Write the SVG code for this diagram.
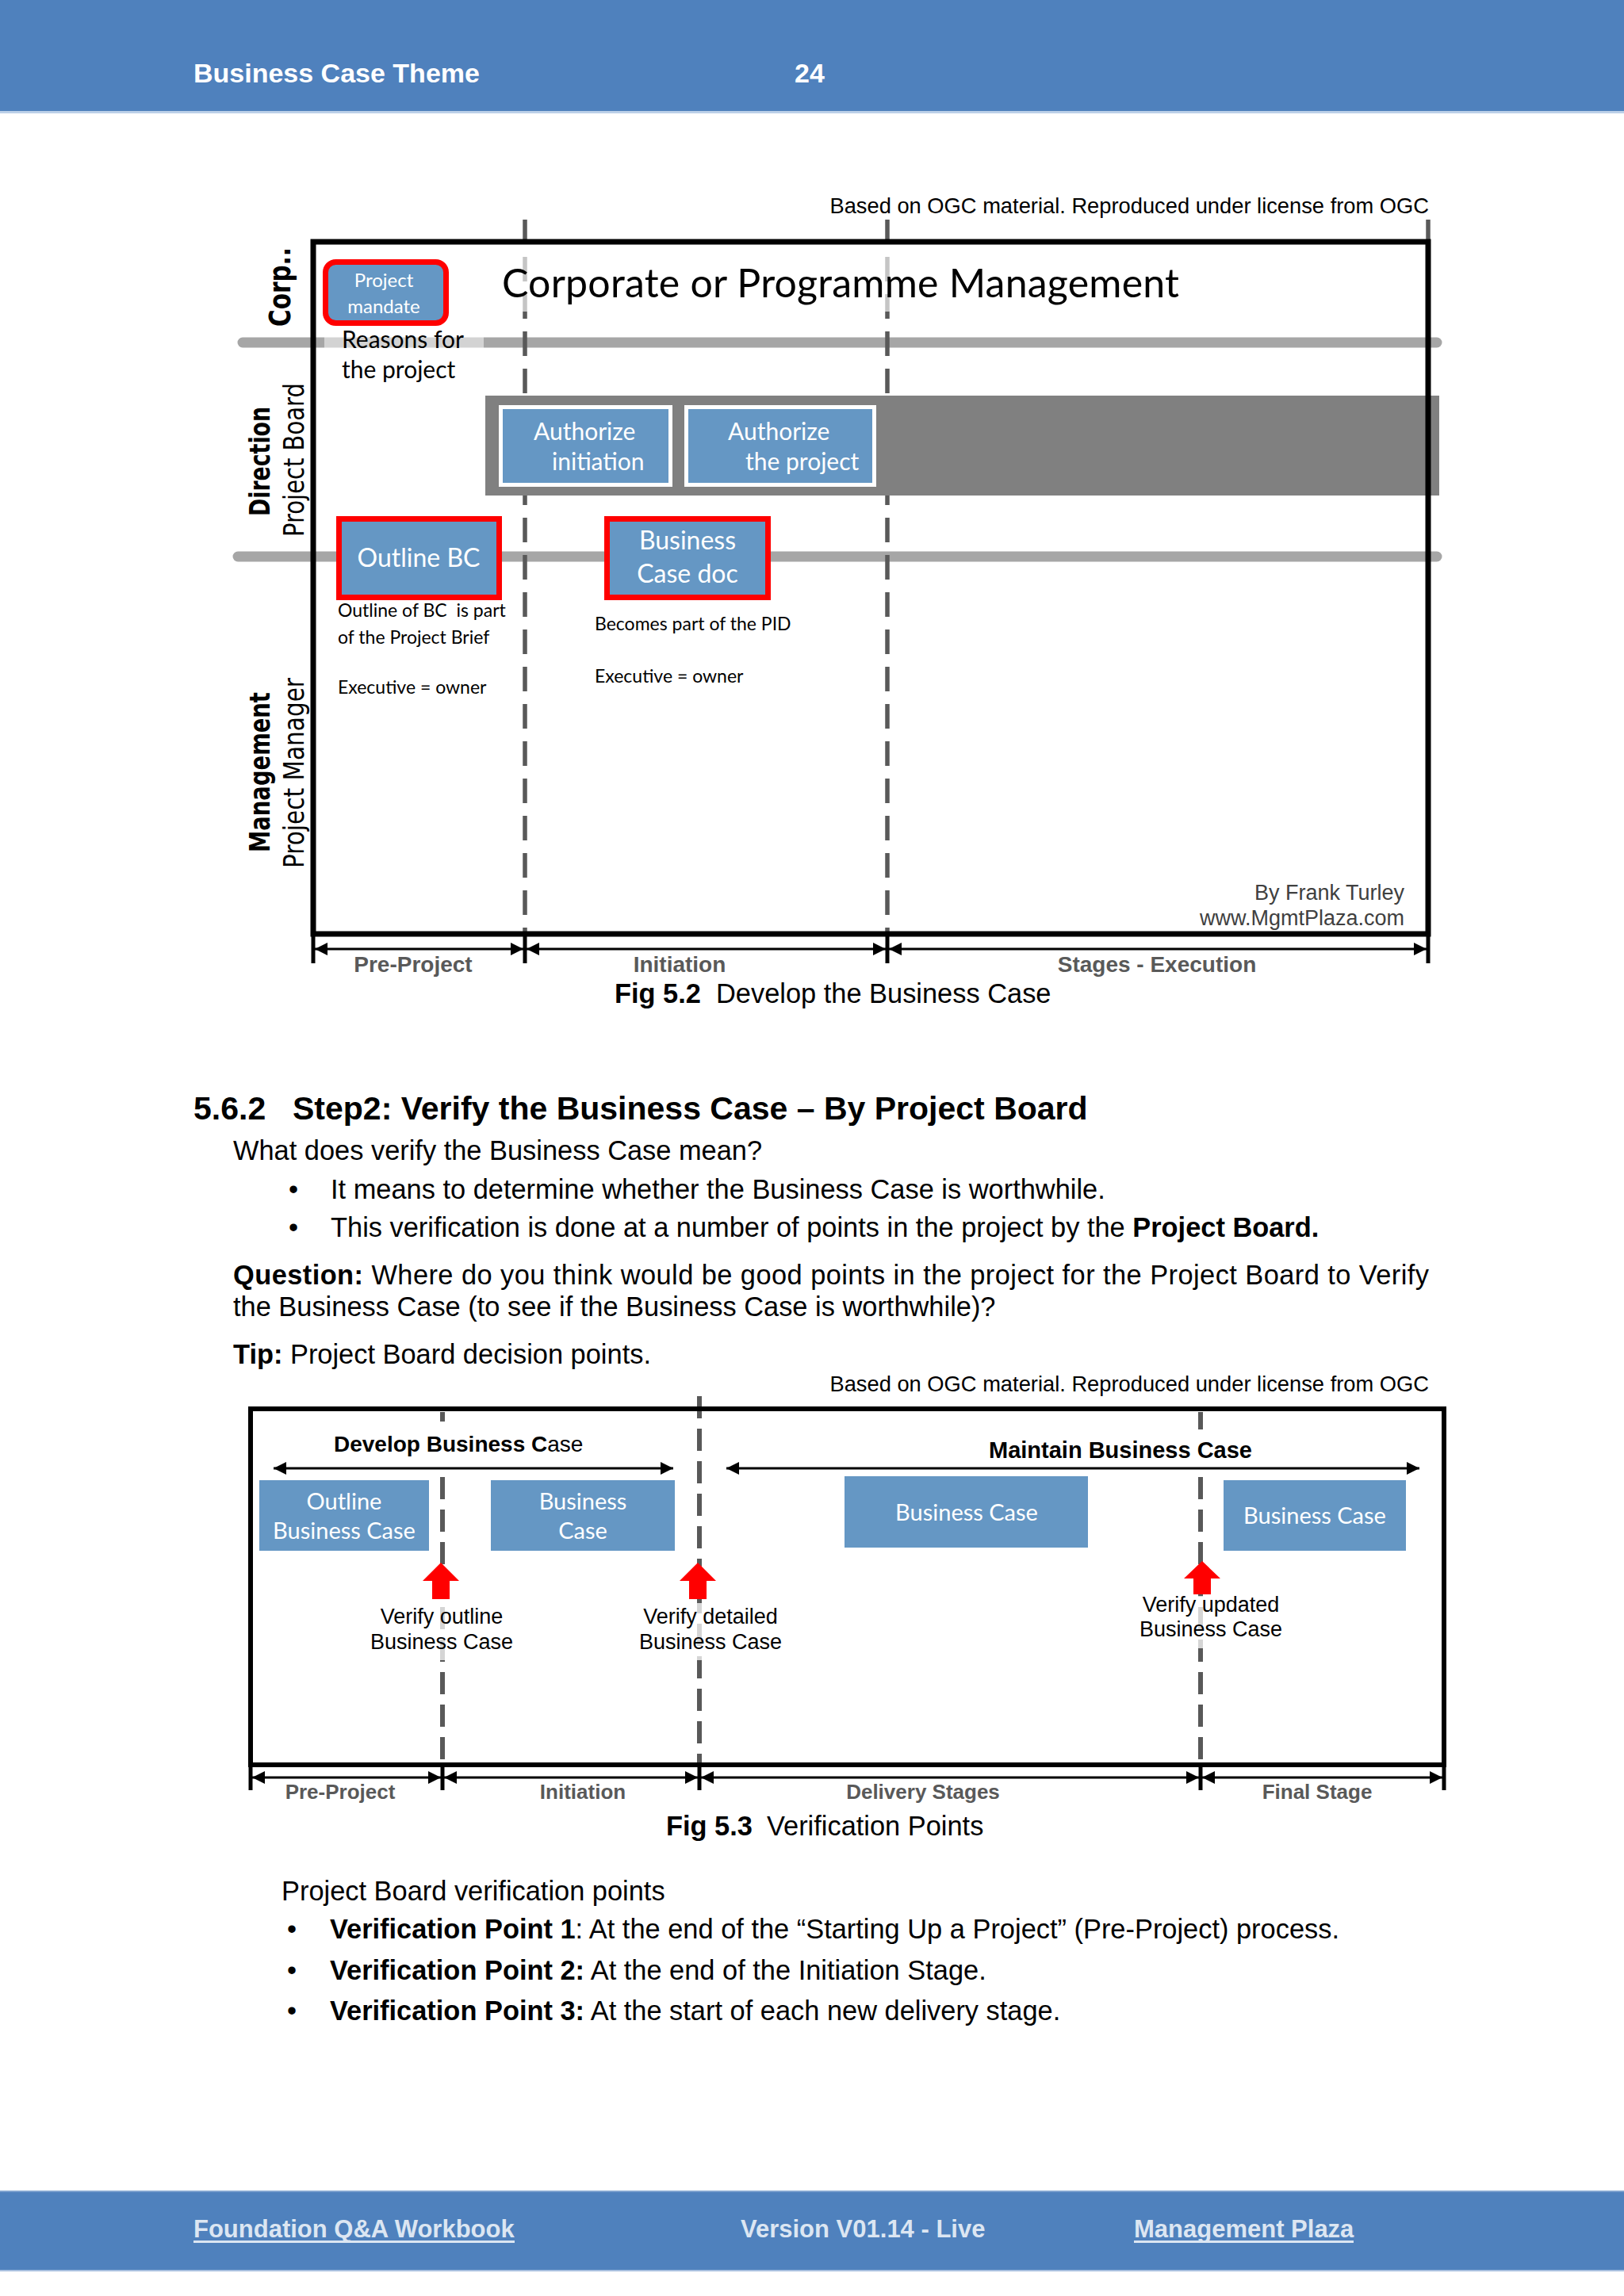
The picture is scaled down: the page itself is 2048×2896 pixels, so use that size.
<svg xmlns="http://www.w3.org/2000/svg" width="2048" height="2896" viewBox="0 0 2048 2896">
<style>
.hdr{font-family:"Liberation Sans",Arial,sans-serif;font-weight:bold;font-size:34px;fill:#fff}
.ftr{font-family:"Liberation Sans",Arial,sans-serif;font-weight:bold;font-size:31px;fill:#DCE6F2}
.body{font-family:"Liberation Sans",Arial,sans-serif;font-size:34.4px;fill:#000}
.head{font-family:"Liberation Sans",Arial,sans-serif;font-size:41px;font-weight:bold;fill:#000}
.b{font-weight:bold}
.note{font-family:"Liberation Sans",Arial,sans-serif;font-size:27px;fill:#000}
.ogc{font-family:"Liberation Sans",Arial,sans-serif;font-size:27.3px;fill:#000}
.cal{font-family:Lato,"Noto Sans",sans-serif;fill:#000}
.calw{font-family:Lato,"Noto Sans",sans-serif;fill:#fff}
.rot{font-family:"DejaVu Sans",Verdana,sans-serif;fill:#000}
.dim{font-family:"Liberation Sans",Arial,sans-serif;font-weight:bold;fill:#595959}
.blue{fill:#6597C4}
.dash1{stroke:#595959;stroke-width:5.5;stroke-dasharray:31 16;fill:none}
.dash2{stroke:#595959;stroke-width:6;stroke-dasharray:28 13;fill:none}
.dl{stroke:#000;stroke-width:3;fill:none;marker-start:url(#ah);marker-end:url(#ah)}
.tick{stroke:#000;stroke-width:5;fill:none}
.redarrow{fill:#FF0000}
</style>
<defs>
<marker id="ah" viewBox="0 0 10 10" refX="10" refY="5" markerWidth="16" markerHeight="17" markerUnits="userSpaceOnUse" orient="auto-start-reverse">
<path d="M0,0 L10,5 L0,10 z" fill="#000"/>
</marker>
</defs>
<rect width="2048" height="2896" fill="#fff"/>

<!-- Header -->
<g id="header">
<rect x="0" y="0" width="2048" height="140" fill="#4F81BD"/>
<rect x="0" y="140" width="2048" height="3" fill="#BCD0E8"/>
<text class="hdr" x="244" y="104">Business Case Theme</text>
<text class="hdr" x="1002" y="104">24</text>
</g>

<!-- Figure 5.2 -->
<g id="fig52">
<text class="ogc" x="1802" y="269" text-anchor="end">Based on OGC material. Reproduced under license from OGC</text>

<g id="lane-bars">
<line x1="306" y1="432" x2="1812" y2="432" stroke="#A6A6A6" stroke-width="13" stroke-linecap="round"/>
<line x1="300" y1="702" x2="1812" y2="702" stroke="#A6A6A6" stroke-width="13" stroke-linecap="round"/>
</g>

<g id="fig52-dashes">
<line class="dash1" x1="662" y1="277" x2="662" y2="1178"/>
<line class="dash1" x1="1119" y1="277" x2="1119" y2="1178"/>
<line x1="1801" y1="277" x2="1801" y2="305" stroke="#595959" stroke-width="5.5"/>
</g>

<rect x="630" y="323" width="862" height="70" fill="#fff" opacity="0.65"/>
<rect x="409" y="420" width="201" height="68" fill="#fff" opacity="0.5"/>

<g id="band">
<rect x="612" y="499" width="1203" height="126" fill="#808080"/>
</g>

<rect x="395" y="305" width="1406" height="873" fill="none" stroke="#000" stroke-width="7"/>

<g id="title">
<text class="cal" x="633" y="375" font-size="50" textLength="854" lengthAdjust="spacing">Corporate or Programme Management</text>
</g>

<g id="node-mandate">
<rect x="410.5" y="330.5" width="152" height="77" rx="13" class="blue" stroke="#FF0000" stroke-width="7"/>
<text class="calw" x="484" y="362" font-size="24" text-anchor="middle">Project</text>
<text class="calw" x="484" y="395" font-size="24" text-anchor="middle">mandate</text>
</g>
<g id="reasons">
<text class="cal" x="431" y="439" font-size="30">Reasons for</text>
<text class="cal" x="431" y="477" font-size="30">the project</text>
</g>

<g id="node-auth-init">
<rect x="631.5" y="513.5" width="214" height="98" class="blue" stroke="#fff" stroke-width="5"/>
<text class="calw" x="673" y="555" font-size="30">Authorize</text>
<text class="calw" x="696" y="593" font-size="30">initiation</text>
</g>
<g id="node-auth-proj">
<rect x="865.5" y="513.5" width="237" height="98" class="blue" stroke="#fff" stroke-width="5"/>
<text class="calw" x="918" y="555" font-size="30">Authorize</text>
<text class="calw" x="940" y="593" font-size="30">the project</text>
</g>

<g id="node-outline-bc">
<rect x="427.5" y="654.5" width="202" height="99" class="blue" stroke="#FF0000" stroke-width="7"/>
<text class="calw" x="528" y="715" font-size="32" text-anchor="middle">Outline BC</text>
</g>
<g id="node-bc-doc">
<rect x="765.5" y="654.5" width="203" height="99" class="blue" stroke="#FF0000" stroke-width="7"/>
<text class="calw" x="867" y="693" font-size="32" text-anchor="middle">Business</text>
<text class="calw" x="867" y="735" font-size="32" text-anchor="middle">Case doc</text>
</g>

<g id="notes52">
<text class="cal" x="426" y="778" font-size="23" style="white-space:pre">Outline of BC  is part</text>
<text class="cal" x="426" y="812" font-size="23">of the Project Brief</text>
<text class="cal" x="426" y="875" font-size="23">Executive = owner</text>
<text class="cal" x="750" y="795" font-size="23">Becomes part of the PID</text>
<text class="cal" x="750" y="861" font-size="23">Executive = owner</text>
<text x="1771" y="1135" font-family="Liberation Sans,Arial,sans-serif" font-size="27" fill="#404040" text-anchor="end">By Frank Turley</text>
<text x="1771" y="1167" font-family="Liberation Sans,Arial,sans-serif" font-size="27" fill="#404040" text-anchor="end">www.MgmtPlaza.com</text>
</g>

<g id="lane-labels">
<text class="rot" font-weight="bold" font-size="38" text-anchor="middle" textLength="100" lengthAdjust="spacingAndGlyphs" transform="translate(366,362) rotate(-90)">Corp..</text>
<text class="rot" font-weight="bold" font-size="35" text-anchor="middle" textLength="138" lengthAdjust="spacingAndGlyphs" transform="translate(340,582) rotate(-90)">Direction</text>
<text class="rot" font-size="35" text-anchor="middle" textLength="194" lengthAdjust="spacingAndGlyphs" transform="translate(383,580) rotate(-90)">Project Board</text>
<text class="rot" font-weight="bold" font-size="35" text-anchor="middle" textLength="202" lengthAdjust="spacingAndGlyphs" transform="translate(340,974) rotate(-90)">Management</text>
<text class="rot" font-size="35" text-anchor="middle" textLength="240" lengthAdjust="spacingAndGlyphs" transform="translate(383,975) rotate(-90)">Project Manager</text>
</g>

<g id="fig52-timeline">
<line class="tick" x1="395" y1="1178" x2="395" y2="1215"/>
<line class="tick" x1="662" y1="1175" x2="662" y2="1215"/>
<line class="tick" x1="1119" y1="1175" x2="1119" y2="1215"/>
<line class="tick" x1="1801" y1="1178" x2="1801" y2="1215"/>
<line class="dl" x1="397" y1="1197" x2="660" y2="1197"/>
<line class="dl" x1="664" y1="1197" x2="1117" y2="1197"/>
<line class="dl" x1="1121" y1="1197" x2="1799" y2="1197"/>
<text class="dim" font-size="28" x="521" y="1226" text-anchor="middle">Pre-Project</text>
<text class="dim" font-size="28" x="857" y="1226" text-anchor="middle">Initiation</text>
<text class="dim" font-size="28" x="1459" y="1226" text-anchor="middle">Stages - Execution</text>
</g>
<text class="body" y="1265"><tspan class="b" x="775">Fig 5.2</tspan><tspan x="903">Develop the Business Case</tspan></text>
</g>

<!-- Body text -->
<g id="text-section">
<text class="head" y="1412"><tspan x="244">5.6.2</tspan><tspan x="369">Step2: Verify the Business Case – By Project Board</tspan></text>
<text class="body" x="294" y="1463">What does verify the Business Case mean?</text>
<text class="body" x="364" y="1512">•</text>
<text class="body" x="417" y="1512">It means to determine whether the Business Case is worthwhile.</text>
<text class="body" x="364" y="1560">•</text>
<text class="body" x="417" y="1560">This verification is done at a number of points in the project by the <tspan class="b">Project Board.</tspan></text>
<text class="body" x="294" y="1620" textLength="1508" lengthAdjust="spacing"><tspan class="b">Question:</tspan> Where do you think would be good points in the project for the Project Board to Verify</text>
<text class="body" x="294" y="1660">the Business Case (to see if the Business Case is worthwhile)?</text>
<text class="body" x="294" y="1720"><tspan class="b">Tip:</tspan> Project Board decision points.</text>
</g>

<!-- Figure 5.3 -->
<g id="fig53">
<text class="ogc" x="1802" y="1755" text-anchor="end">Based on OGC material. Reproduced under license from OGC</text>

<g id="fig53-dashes">
<line class="dash2" x1="558" y1="1781" x2="558" y2="2226"/>
<line class="dash2" x1="882" y1="1761" x2="882" y2="2226"/>
<line class="dash2" x1="1514" y1="1781" x2="1514" y2="2226"/>
</g>
<rect x="340" y="1793" width="515" height="67" fill="#fff"/>
<rect x="905" y="1803" width="890" height="57" fill="#fff"/>
<rect x="470" y="2022" width="175" height="72" fill="#fff" opacity="0.75"/>
<rect x="800" y="2022" width="195" height="72" fill="#fff" opacity="0.75"/>
<rect x="1437" y="2013" width="180" height="66" fill="#fff" opacity="0.75"/>

<rect x="316" y="1777" width="1505" height="449" fill="none" stroke="#000" stroke-width="6"/>

<g id="develop-bc">
<text class="dim" font-size="28" style="fill:#000" x="421" y="1831">Develop Business C<tspan font-weight="normal">ase</tspan></text>
<line class="dl" x1="345" y1="1852" x2="849" y2="1852"/>
</g>
<g id="maintain-bc">
<text class="dim" font-size="29" style="fill:#000" x="1247" y="1839">Maintain Business Case</text>
<line class="dl" x1="916" y1="1852" x2="1790" y2="1852"/>
</g>

<g id="node-obc">
<rect x="327" y="1867" width="214" height="89" class="blue"/>
<text class="calw" x="434" y="1904" font-size="29" text-anchor="middle">Outline</text>
<text class="calw" x="434" y="1941" font-size="29" text-anchor="middle">Business Case</text>
</g>
<g id="node-bc1">
<rect x="619" y="1867" width="232" height="89" class="blue"/>
<text class="calw" x="735" y="1904" font-size="29" text-anchor="middle">Business</text>
<text class="calw" x="735" y="1941" font-size="29" text-anchor="middle">Case</text>
</g>
<g id="node-bc2">
<rect x="1065" y="1862" width="307" height="90" class="blue"/>
<text class="calw" x="1219" y="1918" font-size="29" text-anchor="middle">Business Case</text>
</g>
<g id="node-bc3">
<rect x="1543" y="1867" width="230" height="89" class="blue"/>
<text class="calw" x="1658" y="1922" font-size="29" text-anchor="middle">Business Case</text>
</g>

<g id="verify-points">
<polygon class="redarrow" points="556,1971 579,1994 567,1994 567,2017 545,2017 545,1994 533,1994"/>
<polygon class="redarrow" points="880,1971 903,1994 891,1994 891,2017 869,2017 869,1994 857,1994"/>
<polygon class="redarrow" points="1516,1969 1539,1991 1527,1991 1527,2011 1505,2011 1505,1991 1493,1991"/>
<text class="note" x="557" y="2048" text-anchor="middle">Verify outline</text>
<text class="note" x="557" y="2080" text-anchor="middle">Business Case</text>
<text class="note" x="896" y="2048" text-anchor="middle">Verify detailed</text>
<text class="note" x="896" y="2080" text-anchor="middle">Business Case</text>
<text class="note" x="1527" y="2033" text-anchor="middle">Verify updated</text>
<text class="note" x="1527" y="2064" text-anchor="middle">Business Case</text>
</g>

<g id="fig53-timeline">
<line class="tick" x1="316" y1="2226" x2="316" y2="2258"/>
<line class="tick" x1="558" y1="2223" x2="558" y2="2258"/>
<line class="tick" x1="882" y1="2223" x2="882" y2="2258"/>
<line class="tick" x1="1514" y1="2223" x2="1514" y2="2258"/>
<line class="tick" x1="1821" y1="2226" x2="1821" y2="2258"/>
<line class="dl" x1="318" y1="2242" x2="556" y2="2242"/>
<line class="dl" x1="560" y1="2242" x2="880" y2="2242"/>
<line class="dl" x1="884" y1="2242" x2="1512" y2="2242"/>
<line class="dl" x1="1516" y1="2242" x2="1819" y2="2242"/>
<text class="dim" font-size="26" x="429" y="2269" text-anchor="middle">Pre-Project</text>
<text class="dim" font-size="26" x="735" y="2269" text-anchor="middle">Initiation</text>
<text class="dim" font-size="26" x="1164" y="2269" text-anchor="middle">Delivery Stages</text>
<text class="dim" font-size="26" x="1661" y="2269" text-anchor="middle">Final Stage</text>
</g>
<text class="body" y="2315"><tspan class="b" x="840">Fig 5.3</tspan><tspan x="967">Verification Points</tspan></text>
</g>

<g id="text-points">
<text class="body" x="355" y="2397">Project Board verification points</text>
<text class="body" x="362" y="2445">•</text>
<text class="body" x="416" y="2445"><tspan class="b">Verification Point 1</tspan>: At the end of the “Starting Up a Project” (Pre-Project) process.</text>
<text class="body" x="362" y="2497">•</text>
<text class="body" x="416" y="2497"><tspan class="b">Verification Point 2:</tspan> At the end of the Initiation Stage.</text>
<text class="body" x="362" y="2548">•</text>
<text class="body" x="416" y="2548"><tspan class="b">Verification Point 3:</tspan> At the start of each new delivery stage.</text>
</g>

<!-- Footer -->
<g id="footer">
<rect x="0" y="2763" width="2048" height="2" fill="#7FA3CF"/>
<rect x="0" y="2765" width="2048" height="98" fill="#4F81BD"/>
<rect x="0" y="2863" width="2048" height="2" fill="#A9C1E0"/>
<text class="ftr" x="244" y="2822">Foundation Q&amp;A Workbook</text>
<rect x="244" y="2826" width="405" height="3" fill="#DCE6F2"/>
<text class="ftr" x="934" y="2822">Version V01.14 - Live</text>
<text class="ftr" x="1430" y="2822">Management Plaza</text>
<rect x="1430" y="2826" width="277" height="3" fill="#DCE6F2"/>
</g>
</svg>
